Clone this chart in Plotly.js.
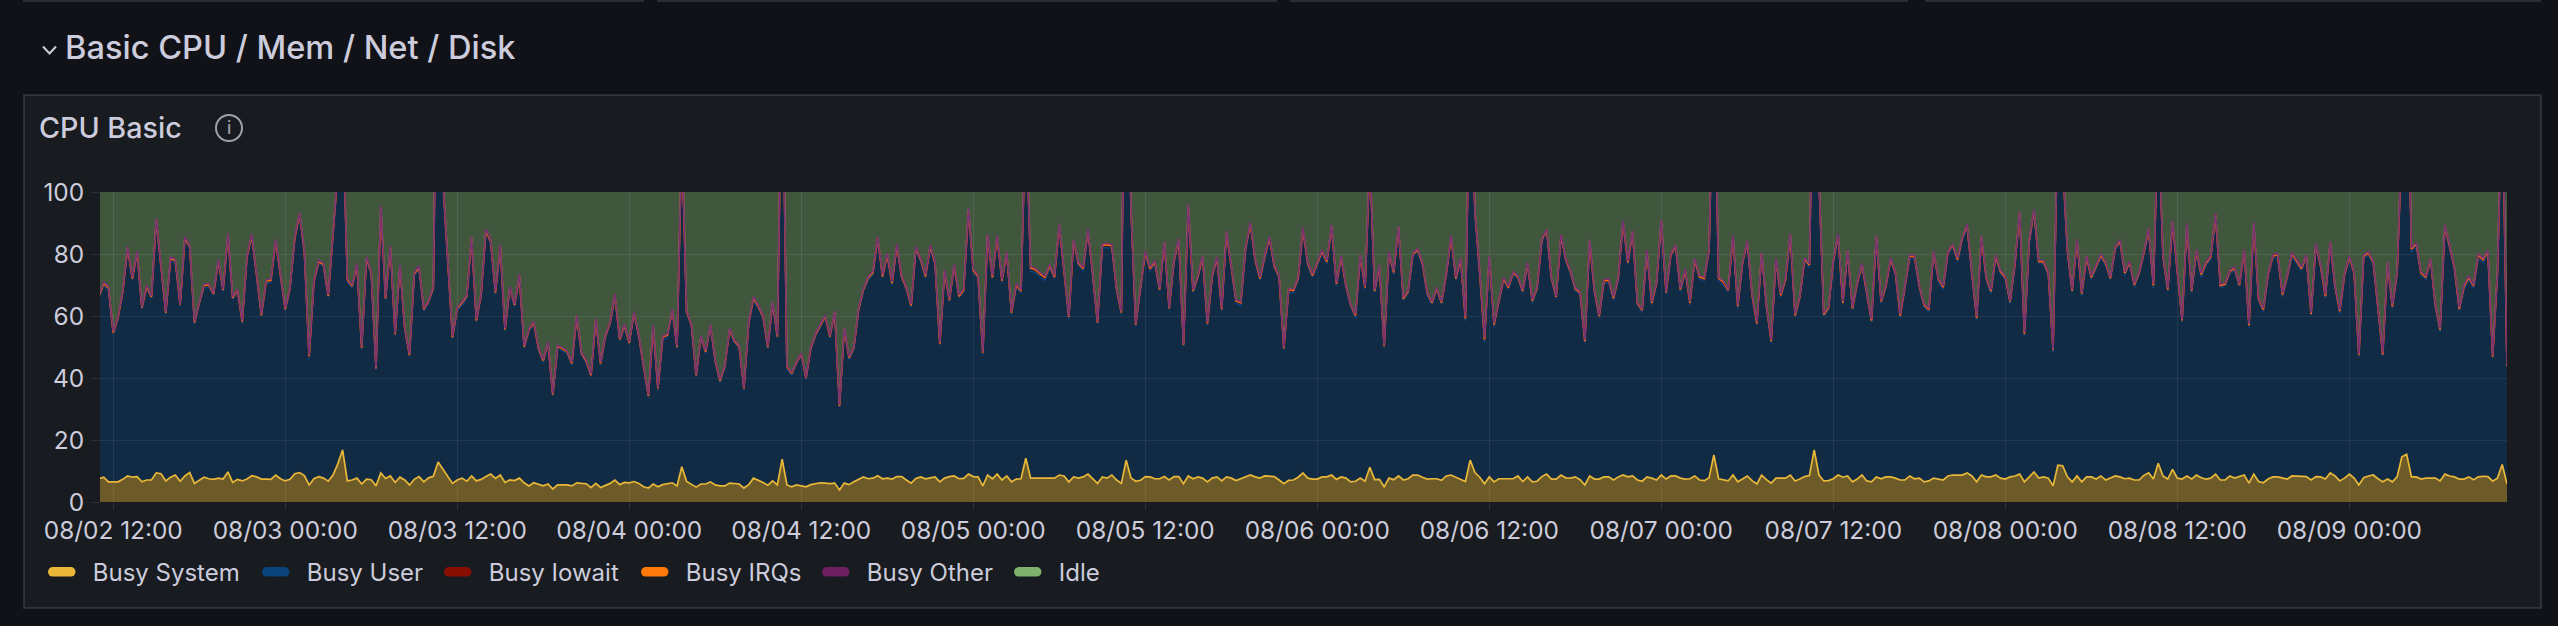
<!DOCTYPE html>
<html><head><meta charset="utf-8">
<script src="https://cdn.plot.ly/plotly-3.0.1.min.js"></script>
<style>html,body{margin:0;padding:0;background:#111217;overflow:hidden}#c{width:2558px;height:626px}</style>
</head><body><div id="c"></div>
<script>
const startTime = Date.UTC(2024,7,2,11,0,0);
const stepMinutes = 20;
const seriesNames = ["Busy System","Busy User","Busy Iowait","Busy IRQs","Busy Other","Idle"];
const seriesColors = ["#EAB839","#0A437C","#890F02","#FF780A","#6D1F62","#7EB26D"];
const busyTop = [
66.8,70.9,69.5,55,59.8,68.4,82.4,72.5,81,63,
70,66.5,91.5,76.5,61.4,79,78.3,64,85.6,82.9,
58.2,64.6,70.3,70.5,67.5,78.3,68.7,86.7,66.2,68.7,
58.5,79.7,86.3,73.8,60.6,71.6,72,84.7,73.2,62.5,
69.5,85.6,93.3,81.3,47.4,71.6,78,77,66.8,89.4,
112,127,72.2,70,77,50.1,79.1,74.3,43.4,95.5,
66,82.6,54.4,76.5,56.6,47.7,74,76.1,62.5,65.2,
69.5,190,104,78.6,53.5,62.8,64.6,66.8,85.6,58.9,
67.3,88,84.5,67.9,82.9,56,69.5,63.9,73.5,50.4,
56,58.2,49.9,46,51.7,35,50.6,49.8,48.8,45,
60.3,48.3,45.8,41.2,59.2,45,53.9,58.2,67.1,52.8,
57.3,51.7,61.4,53.9,44,34.5,57.1,37,53.5,54.2,
62.2,50.3,118,61.7,57.6,41.2,53.7,48.8,57.3,45.8,
39.4,44.2,56,52.3,50.6,37,58.2,66.2,63.5,60.3,
50.3,64.6,53.7,153,44,41.8,45.5,48,40.4,50.1,
54.4,57.6,60.3,53.7,61.6,31.3,56.3,46.9,50.1,62.5,
68.9,72.7,74.5,85.6,73.2,80.2,71,83.2,73.2,69.5,
63.8,82.4,78.6,73.2,82.9,77.5,51.4,74.8,65.4,76.7,
66.8,68.9,94.7,75.2,73.2,48.5,86.3,72.9,86.1,71.8,
80.8,61.4,70.5,68.4,127,75.9,75.4,74,72.9,76.7,
73,89.7,75.4,60,84.7,77.5,75.7,88,73.8,58.2,
83.2,83.4,83.1,68.9,61.4,200,95.3,57.6,69.5,81,
75.7,77.9,68.9,84,62.8,78,85,51,96,68.4,
73.2,79.5,57.9,73.2,79.1,62.5,87.4,76.5,65.2,64.6,
82.4,90.2,78.6,72.5,79.7,85.6,76.5,73.2,49.9,68.9,
68.7,72.7,88.6,77.5,73.5,77.5,81.3,77.9,89.4,70.7,
79.5,70,64,60.5,79.9,69.5,111,68.4,76.5,50.6,
80.8,74.5,89,66,68.4,80.2,81.8,77.5,67.9,64.6,
69.3,64.6,73.8,86.1,72.5,78.8,59.6,146,94,74.3,
52.8,79.5,57.6,65.2,72.5,69.5,74.3,72.9,68.4,77.3,
65.2,69.5,85,88,72.7,66.5,86.3,78.6,74.8,69.1,
68,52.3,84.7,68.4,60.3,71.8,72,66.2,72.7,90.7,
77.7,87.4,64.6,62.2,81.3,64.6,71,91,67.9,80.2,
82.9,68.9,75.2,64.6,78.6,73,72.5,81.8,150,72.5,
71.4,68.7,86.1,63.5,77.5,84.3,67.3,58,80.5,64,
52.3,78.6,67.1,72.2,86.7,60.6,66.5,78.8,76.8,164,
105,60.9,63,78,86.5,64.6,81.3,62.8,71,77,
68.4,58.9,85.9,65,70,78.8,74.3,60.5,70,79.7,
79.5,70,63.9,62.5,81,72.2,69.7,81,83.2,78.6,
85.6,89.6,74.3,59.8,85.8,72.9,68.4,79.7,74.8,72.9,
64.9,77,93.7,54.6,84.5,94.4,77.9,77.9,74.3,49.4,
125,110,81.3,68.6,84.8,67.5,79.5,72.9,76.5,80,
77.5,72.5,82.2,84.7,74.3,77.7,70.5,74.3,80.8,88.3,
70.3,125,79.7,68.9,90.7,74.8,58.9,89.9,68.4,81.5,
73.8,77.5,79.5,93.1,70.2,70.7,74.8,75.9,70.3,81.5,
57.4,90.2,66,62.5,73.8,79.7,80.2,67.3,73.2,80.5,
78,75.7,79.7,61.1,83.4,76.5,66.8,84,70,62,
73.8,79.4,74.3,47.7,79.7,80.8,77.9,63,48,77.5,
63.5,74.3,130,160,82,83.7,74.3,72.9,78.6,64,
56,89.4,82.8,75.9,62.7,70,72.9,70,80.2,78.6,
81.3,47.2,74.3,135,44.2];
const busySystem = [
7.5,8,6.5,6.5,6.5,7.3,8.4,8,8.2,6.5,
7.1,7.1,9.4,9.1,6.8,8,8.7,6.7,8.4,9.5,
6,7,8,7.5,7.3,7.7,7.4,9.7,6.3,7.3,
6.8,7.4,8.5,8.1,7.4,7.4,7.3,8.7,7.5,6.8,
7.3,9.1,9.5,8.5,5.5,7.5,8.2,7.7,6.7,8.7,
12.3,16.8,6.8,7.1,7.7,5.8,7.4,7.2,5.2,9.4,
7.6,8.4,6.3,8,7.1,5.5,7.3,8.2,6.5,7.8,
8.3,12.9,10.5,8.2,6,7.1,7.7,6.7,8.4,6.8,
7.3,8.2,9,7.6,8.7,6.3,7.1,6.9,7.7,6.2,
5.2,6.2,5.6,5.2,5.8,4.2,5.5,5.5,5.5,5.2,
6.2,6,5.9,4.6,6,4.7,5.4,6,7.1,5.6,
6.3,6.2,6.6,6,4.9,4.5,5.8,4.9,5.6,6,
6.2,5.2,11.4,6.6,5.6,4.8,5.8,5.8,6.5,5.5,
5.2,5.2,6.1,5.9,5.8,4.5,5.6,7.7,7.1,6.3,
5.4,6.8,5.5,13.8,5.5,4.9,5.5,5.2,4.9,5.6,
6,6.2,6.1,5.9,6.1,3.9,6.1,5.6,6.5,7.3,
8.1,7.5,7.7,8.5,7.5,7.7,7.4,8.2,8.2,7.1,
6.1,7.6,8.1,7.5,7.7,8.1,6.5,7.7,8.2,8.4,
7.5,7.6,9,8.2,8.1,5.2,8.7,7.5,9,7.1,
8.4,6.5,7.4,7.5,14.1,7.7,7.7,7.7,7.7,7.7,
7.7,8.7,8.4,6.5,8.1,7.7,8.1,9,7.5,6,
8.1,7.7,8.7,7.1,6,13.5,7.8,6.7,7,8.2,
8.1,7.5,7.5,8.2,7.1,8.2,8.2,5.9,8.4,7.5,
8.1,7.7,6.5,7.7,8.1,6.8,8.1,7.7,6.9,7.5,
8.2,8.7,8.1,7.7,8.4,8.4,8.2,7.1,5.9,7,
7.1,8,9.4,7.7,7.4,7.4,8.1,8.1,8.7,7.3,
8.1,7.7,6.5,6.7,7.7,6.7,11.2,7.2,7.3,4.9,
7.7,7.2,8.4,7.1,7.5,8.7,8.7,8,7.4,7.5,
7.5,7,8.4,8.7,8,7.1,6.6,13.5,9.5,8,
5.9,8.1,6.5,7.5,7.5,7.5,7.5,8.4,6.6,8.1,
6.5,6.7,8.2,9,7.4,7.4,8.7,7.8,7.7,8.1,
7.2,5.5,8.4,7.4,7.4,8.1,8.1,7.1,8.1,8.7,
8.1,8.4,7.1,6.7,8.1,7.7,7.1,8.7,7.4,8.4,
8.4,7.7,7.4,7.5,8.4,7.1,6.9,7.8,15.2,7.5,
7.2,6.8,8.7,6.5,7.4,8.4,6.9,5.8,8.7,7.2,
6.1,7.7,7.7,7.7,8.7,6.8,7.4,8.2,8.5,16.8,
8.7,6.8,6.9,7.5,8.7,8,8.4,6.5,7.4,8.7,
6.8,6.5,8.1,7.5,8.1,8.1,7.7,7.1,7.1,8.4,
7.5,7.7,6.5,6.8,7.7,7.5,7.1,8.4,8.7,8.7,
8.7,9.4,8.4,6.5,8.7,8.1,8.1,8.7,7.7,7.4,
8.1,8.4,9,6.5,8.1,9.7,7.7,8.1,7.7,5.2,
11.9,11.7,8.1,6.5,8.4,6.5,8.1,8.1,7.4,8.4,
7.1,7.7,8.4,8.1,7.5,7.7,7.1,7.1,8.6,9.4,
7.4,12.5,8.4,7.4,10.5,7.7,7.4,8.4,7.4,8.7,
7.8,7.4,7.7,9,7.1,7.1,8.4,7.7,8.1,8.7,
6.1,9,6.6,6.2,7.4,8.1,8.1,7.7,7.4,8.4,
8.4,8.2,8.2,7.1,8.2,8.1,7.4,9.4,8.4,6.8,
7.7,9,7.7,5.5,7.8,8.4,8.7,7.5,6.5,7.4,
6.5,8.1,14.6,15.4,8.1,8.1,7.4,7.7,7.7,7.7,
6.8,9,8.4,8.1,7.4,7.4,8.1,7.2,8.1,8.3,
8.2,6.7,7.7,12.1,5.8];
const busyIowait = [
.5,.5,.6,.5,.4,.5,.5,.6,.4,.5,.5,.5,.4,.5,.5,.5,.6,.5,.6,.5,
.5,.5,.6,.7,.5,.4,.5,.4,.5,.5,.5,.4,.5,.5,.5,.6,.6,.4,.5,.5,
.5,.4,.4,.5,.8,.5,.6,.6,.5,.4,.3,.3,.6,.6,.4,.4,.5,.5,.4,.4,
.5,.4,.5,.4,.4,.5,.6,.6,.5,.6,.5,.3,.3,.4,.5,.6,.7,.7,.4,.5,
.5,.4,.5,.5,.4,.4,.5,.6,.4,.4,.5,.5,.5,.6,.5,.4,.6,.6,.6,.5,
.4,.5,.5,.4,.4,.4,.5,.4,.5,.5,.5,.4,.4,.4,.4,.5,.4,.7,.7,.7,
.4,.4,.4,.4,.5,.4,.4,.5,.4,.5,.5,.5,.4,.4,.5,.7,.4,.7,.6,.5,
.4,.5,.5,.3,.6,.6,.5,.5,.5,.5,.5,.5,.4,.4,.4,.4,.5,.5,.7,.5,
.6,.7,.6,.4,.4,.4,.5,.5,.4,.5,.5,.7,.6,.6,.4,.5,.4,.4,.5,.7,
.5,.4,.4,.6,.5,.6,.5,.4,.4,.5,.6,.5,.6,.5,.3,.9,.9,.9,.9,.8,
.5,.4,.5,.7,.5,.6,.7,.4,.5,.4,.8,.8,.8,.5,.5,.3,.4,.6,.5,.5,
.7,.6,.5,.4,.5,.5,.4,.5,.5,.5,.4,.5,.5,.4,.4,.5,.4,.5,.5,.9,
.9,.4,.4,.6,.7,.4,.4,.5,.5,.8,.7,.5,.4,.7,.5,.5,.7,.4,.5,.7,
.5,.6,.5,.8,.5,.5,.5,.5,.7,.4,.7,.6,.5,.6,.4,.4,.5,.6,.8,.6,
.6,.4,.4,.5,.6,.7,.7,.7,.6,.6,.8,.5,.7,.4,.4,.4,.5,.5,.6,.5,
.7,.8,.7,.4,.6,.5,.5,.6,.7,.5,.5,.5,.5,.7,.5,.8,.7,.6,.8,.8,
.5,.8,.5,.8,.8,.5,.6,.4,.5,.4,.6,.8,.5,.7,.5,.5,.6,.8,.7,.7,
.8,.4,.3,.7,.7,.6,.8,.5,.5,.5,.7,.5,.6,.4,.5,.5,.6,.4,.7,.5,
.4,.5,.5,.8,.6,.6,.5,.5,.6,.7,.6,.5,.7,.5,.4,.6,.4,.6,.5,.8,
.5,.5,.6,.5,.8,.7,.5,.7,.5,.6,.6,.8,.7,.5,.7,.7,.8,.4,.6,.5,
.6,.5,.6,.6,.9,.6,.5,.7,.7,.7,.8,.5,.6,.4,.6,.7,.4,.6,.7,.6,
.7,.4,.6,.5,.7,.4,.6,.5,.6,.7,.8,.7,.7,.5,.7,.4,.6,.4,.5,.9,
.9,.5,.7,.8,.5,.4,.6,.7,.4,.8,.6,.4,.5,.7,.5,.7,.6,.7,.8,.7,
.7,.5,.6,.4,.8,.4,.6,.8,.6,.8,.7,.7,.6,.4,.5,.7,.5,.6,.5,.6,
.6,.6,.5,.7,.9,.8,.5,.6,.5,.8,.7,.6,.6,.5,.5,.8,.5,.7,.7,.7,
.7,.4,.5,.4,.3];
const busyIrq = [
.1,.1,.1,.2,.1,.1,.1,.1,.1,.1,.1,.1,.1,.1,.1,.1,.1,.1,.1,.1,
.1,.1,.1,.1,.1,.1,.1,.1,.1,.1,.1,.1,.1,.1,.1,.1,.1,.1,.1,.1,
.1,.1,.1,.1,.2,.1,.1,.1,.1,.1,.1,.1,.1,.1,.1,.1,.1,.1,.1,.1,
.1,.1,.1,.1,.1,.1,.1,.1,.1,.1,.1,.1,.1,.1,.1,.1,.1,.1,.1,.1,
.1,.1,.1,.1,.1,.1,.1,.1,.1,.1,.1,.1,.1,.1,.1,.1,.1,.1,.1,.1,
.1,.1,.1,.1,.1,.1,.1,.1,.1,.1,.1,.1,.1,.1,.1,.1,.1,.2,.1,.1,
.1,.1,.1,.1,.1,.1,.1,.1,.1,.1,.1,.1,.1,.1,.1,.2,.1,.1,.1,.1,
.1,.1,.1,.1,.1,.1,.1,.1,.1,.1,.1,.1,.1,.1,.1,.1,.1,.1,.1,.1,
.1,.1,.1,.1,.1,.1,.1,.1,.1,.1,.1,.1,.1,.1,.1,.1,.1,.1,.1,.1,
.1,.1,.1,.1,.1,.2,.2,.2,.2,.2,.1,.1,.1,.2,.1,.1,.1,.1,.1,.1,
.2,.2,.2,.1,.1,.1,.1,.1,.1,.1,.1,.1,.1,.1,.1,.1,.1,.1,.1,.2,
.2,.1,.1,.1,.1,.1,.1,.1,.1,.1,.1,.1,.1,.1,.1,.1,.1,.1,.1,.1,
.1,.1,.1,.1,.1,.1,.1,.1,.1,.1,.1,.1,.1,.1,.1,.1,.1,.1,.1,.1,
.1,.1,.1,.2,.1,.1,.1,.1,.1,.1,.1,.1,.1,.1,.1,.1,.1,.1,.2,.1,
.1,.1,.1,.1,.1,.1,.1,.1,.1,.1,.1,.1,.1,.1,.1,.1,.1,.1,.1,.1,
.1,.2,.1,.1,.1,.1,.1,.1,.1,.1,.1,.1,.1,.1,.1,.1,.1,.1,.1,.1,
.1,.1,.1,.1,.1,.1,.1,.1,.1,.1,.1,.1,.1,.1,.1,.1,.1,.1,.1,.1,
.2,.1,.1,.1,.1,.1,.1,.1,.1,.1,.1,.1,.1,.1,.1,.1,.1,.1,.1,.1,
.1,.1,.1,.1,.1,.1,.1,.1,.1,.1,.1,.1,.1,.1,.1,.1,.1,.1,.1,.1,
.1,.1,.1,.1,.1,.1,.1,.1,.1,.1,.1,.1,.1,.1,.1,.1,.1,.1,.1,.1,
.1,.1,.1,.1,.1,.1,.1,.1,.1,.1,.1,.1,.1,.1,.1,.1,.1,.1,.1,.1,
.1,.1,.1,.1,.1,.1,.1,.1,.1,.1,.1,.1,.1,.1,.1,.1,.1,.1,.1,.1,
.1,.1,.1,.1,.1,.1,.1,.1,.1,.1,.1,.1,.1,.1,.1,.1,.1,.1,.1,.1,
.1,.1,.1,.1,.1,.1,.1,.1,.1,.1,.1,.1,.1,.1,.1,.1,.1,.1,.1,.1,
.1,.1,.1,.1,.1,.1,.1,.1,.1,.1,.1,.1,.1,.1,.1,.1,.1,.1,.1,.1,
.1,.1,.1,.1,.1];
const busyOther = [
.4,.4,.4,.3,.3,.4,.4,.4,.4,.3,.4,.3,.4,.4,.3,.4,.4,.3,.4,.4,
.3,.3,.4,.4,.3,.4,.3,.4,.3,.3,.3,.4,.4,.4,.3,.4,.4,.4,.4,.3,
.3,.4,.4,.4,.3,.4,.4,.4,.3,.4,.4,.4,.4,.3,.4,.3,.4,.4,.3,.4,
.3,.4,.3,.4,.3,.3,.4,.4,.3,.3,.3,.4,.4,.4,.3,.3,.3,.3,.4,.3,
.3,.4,.4,.3,.4,.3,.3,.3,.4,.3,.3,.3,.3,.3,.3,.3,.3,.3,.3,.3,
.3,.3,.3,.3,.3,.3,.3,.3,.4,.3,.3,.3,.3,.3,.3,.3,.3,.3,.3,.3,
.3,.3,.4,.3,.3,.3,.3,.3,.3,.3,.3,.3,.3,.3,.3,.3,.3,.4,.3,.4,
.3,.3,.3,.3,.3,.3,.3,.3,.3,.3,.3,.3,.3,.3,.3,.3,.3,.3,.3,.3,
.3,.4,.4,.4,.4,.4,.4,.4,.4,.4,.4,.3,.4,.4,.4,.4,.3,.4,.3,.3,
.4,.4,.4,.4,.4,.3,.3,.4,.4,.4,.4,.3,.4,.3,.4,.4,.4,.4,.4,.4,
.4,.4,.4,.3,.4,.4,.4,.4,.4,.3,.4,.4,.4,.3,.3,.4,.4,.3,.3,.4,
.4,.4,.3,.4,.3,.4,.4,.3,.4,.3,.4,.4,.3,.4,.4,.3,.4,.4,.3,.3,
.4,.4,.4,.4,.4,.4,.4,.3,.3,.3,.4,.4,.4,.4,.4,.4,.4,.4,.4,.3,
.4,.3,.3,.3,.4,.3,.4,.3,.4,.3,.4,.4,.3,.4,.4,.3,.4,.4,.3,.3,
.3,.3,.3,.4,.4,.3,.4,.3,.3,.4,.4,.4,.4,.3,.4,.3,.3,.3,.3,.3,
.3,.4,.4,.3,.3,.3,.4,.3,.4,.3,.4,.4,.4,.3,.3,.4,.4,.4,.3,.4,
.4,.3,.4,.3,.3,.4,.3,.3,.3,.4,.3,.3,.4,.4,.3,.4,.4,.4,.3,.3,
.4,.3,.4,.3,.3,.3,.4,.4,.3,.4,.4,.3,.4,.4,.4,.4,.3,.4,.3,.4,
.3,.4,.3,.4,.4,.4,.3,.3,.4,.4,.3,.4,.3,.3,.4,.4,.3,.4,.4,.3,
.4,.3,.3,.4,.3,.3,.4,.3,.3,.4,.3,.3,.4,.4,.3,.4,.4,.4,.4,.4,
.3,.4,.3,.4,.4,.4,.3,.4,.4,.3,.4,.4,.4,.4,.3,.3,.4,.4,.4,.4,
.4,.3,.3,.4,.4,.3,.4,.3,.4,.4,.4,.4,.3,.4,.4,.4,.3,.4,.3,.4,
.4,.4,.4,.4,.3,.4,.3,.4,.3,.4,.4,.3,.4,.4,.3,.3,.4,.4,.3,.4,
.4,.4,.3,.4,.3,.4,.4,.3,.3,.4,.3,.4,.3,.3,.4,.4,.4,.4,.4,.3,
.4,.3,.4,.4,.4,.3,.4,.3,.3,.4,.4,.3,.4,.3,.4,.4,.4,.3,.4,.4,
.4,.3,.4,.4,.3];
const tickFormatStr = "%m/%d %H:%M";

const times = busyTop.map((_, i) => new Date(startTime + i * stepMinutes * 60000).toISOString());
const busyUser = busyTop.map((t, i) => t - busySystem[i] - (busyIowait[i] ?? .5) - (busyIrq[i] ?? .1) - (busyOther[i] ?? .3));
const idle = busyTop.map(t => Math.max(100 - t, 0));
const valueSets = [busySystem, busyUser, busyIowait, busyIrq, busyOther, idle];

function rgba(hex, a) {
  const n = parseInt(hex.slice(1), 16);
  return `rgba(${n >> 16},${(n >> 8) & 255},${n & 255},${a})`;
}
const traces = seriesNames.map((name, s) => ({
  type: "scatter", mode: "lines", name, x: times, y: valueSets[s],
  stackgroup: "cpu", line: {color: s === 4 ? "#7a3370" : seriesColors[s], width: s === 5 ? 0 : 1.7, shape: "linear"},
  fillcolor: rgba(seriesColors[s], 0.4), hoverinfo: "skip"
}));

const textColor = "#ccccdc";
const gridColor = "rgba(204,204,220,0.13)";
const PANEL = "#181b1f", BORDER = "rgba(204,204,220,0.14)";
const px = v => (v - 100) / 2407;
const py = v => (502 - v) / 310;
const legendSwatchX = [48, 262, 444, 641, 822, 1014];
const layout = {
  width: 2558, height: 626, autosize: false,
  paper_bgcolor: "#111217", plot_bgcolor: "rgba(0,0,0,0)",
  margin: {l: 100, r: 51, t: 192, b: 124, pad: 0},
  font: {family: "Inter, sans-serif", size: 24, color: textColor},
  showlegend: true,
  legend: {orientation: "h", xref: "container", yref: "container", x: 0.0145, y: 0.085, xanchor: "left", yanchor: "middle",
           font: {size: 24, color: textColor, family: "Inter"}, itemclick: false, itemdoubleclick: false, bgcolor: "rgba(0,0,0,0)", traceorder: "normal"},
  xaxis: {type: "date", range: [new Date(startTime + 4.6 * 60000).toISOString(), new Date(startTime + 168 * 3600000).toISOString()],
          dtick: 43200000, tick0: new Date(startTime + 3600000).toISOString(), tickformat: tickFormatStr,
          showgrid: true, gridcolor: gridColor, gridwidth: 1, ticks: "outside", ticklen: 7, tickwidth: 1, tickcolor: gridColor,
          zeroline: false, showline: false, tickfont: {size: 24.4, color: textColor, family: "Inter"}, fixedrange: true},
  yaxis: {range: [0, 100], tickvals: [0,20,40,60,80,100], showgrid: true, gridcolor: gridColor, gridwidth: 1,
          ticks: "outside", ticklen: 8, tickwidth: 1, tickcolor: gridColor, zeroline: false, showline: false, ticklabelstandoff: 2,
          tickfont: {size: 24.4, color: textColor, family: "Inter"}, fixedrange: true},
  shapes: [
    ...[[23,644],[657,1277],[1290,1908],[1925,2541]].map(b => ({type: "path", layer: "below", xref: "x domain", yref: "y domain", line: {width: 0}, fillcolor: "#2b2d33",
        path: `M${px(b[0])},${py(0)} L${px(b[1])},${py(0)} L${px(b[1])},${py(2)} L${px(b[0])},${py(2)} Z`})),
    {type: "path", layer: "below", xref: "x domain", yref: "y domain", fillcolor: PANEL, line: {color: BORDER, width: 2},
     path: `M${px(24)},${py(95)} L${px(2541)},${py(95)} L${px(2541)},${py(608)} L${px(24)},${py(608)} Z`},
    {type: "path", layer: "above", xref: "x domain", yref: "y domain", line: {color: textColor, width: 2}, fillcolor: "rgba(0,0,0,0)",
     path: `M${px(43)},${py(46.5)} L${px(49.5)},${py(53.5)} L${px(56)},${py(46.5)}`},
    {type: "circle", layer: "above", xref: "x domain", yref: "y domain", line: {color: "#a0a1a8", width: 2}, fillcolor: "rgba(0,0,0,0)",
     x0: px(216), x1: px(242), y0: py(115), y1: py(141)}
  ],
  annotations: [
    {text: "Basic CPU / Mem / Net / Disk", xref: "paper", yref: "paper", x: px(63), y: py(47), xanchor: "left", yanchor: "middle", showarrow: false, font: {family: "Inter", size: 32.6, weight: 500, color: textColor}},
    {text: "CPU Basic", xref: "paper", yref: "paper", x: px(37), y: py(128), xanchor: "left", yanchor: "middle", showarrow: false, font: {family: "Inter", size: 28.7, weight: 500, color: textColor}},
    {text: "i", xref: "paper", yref: "paper", x: px(229), y: py(128), xanchor: "center", yanchor: "middle", showarrow: false, font: {family: "Inter", size: 17, weight: 500, color: "#a0a1a8"}}
  ]
};
Plotly.newPlot("c", traces, layout, {staticPlot: true, displayModeBar: false}).then(gd => {
  const root = gd.querySelector(".legend");
  const sb = root.querySelector(".scrollbox");
  if (sb) { sb.removeAttribute("clip-path"); sb.style.clipPath = "none"; }
  root.removeAttribute("clip-path");
  root.querySelectorAll(".legendfill").forEach(f => f.remove());
  root.querySelectorAll(".traces").forEach((g, i) => {
    const path = g.querySelector(".legendlines path");
    const txt = g.querySelector("text.legendtext");
    path.setAttribute("d", "M5,0h18");
    path.style.stroke = seriesColors[i];
    path.style.strokeWidth = "9.5px";
    path.style.strokeLinecap = "round";
    txt.setAttribute("x", 45);
    const pr = path.getBoundingClientRect();
    const tr = txt.getBoundingClientRect();
    const m = /translate\(\s*([-\d.]+)[ ,]+([-\d.]+)/.exec(g.getAttribute("transform") || "") || [0,0,0];
    const dx = legendSwatchX[i] + 4.75 - pr.left;
    const dy = 572.7 - (tr.top + tr.bottom) / 2;
    g.setAttribute("transform", `translate(${+m[1] + dx},${+m[2] + dy})`);
  });
});
</script></body></html>
